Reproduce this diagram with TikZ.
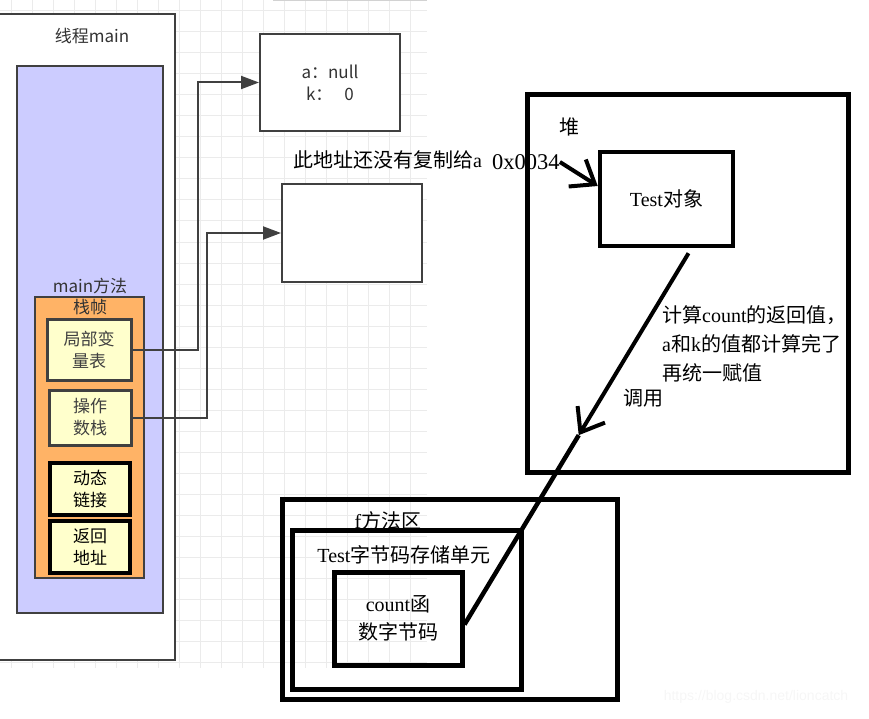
\documentclass[tikz,border=0pt]{standalone}
\usepackage{fontspec}
\setmainfont{Liberation Serif}
\newfontfamily\zh{Noto Sans CJK SC}
\newfontfamily\wmfont{Liberation Sans}
\usetikzlibrary{arrows.meta,calc}
\definecolor{framegray}{HTML}{404040}
\definecolor{stackblue}{HTML}{CCCCFF}
\definecolor{frameorange}{HTML}{FFB366}
\definecolor{slotyellow}{HTML}{FFFFCC}
\definecolor{gridgray}{HTML}{EBEBEB}

\begin{document}
\begin{tikzpicture}[x=1pt,y=-1pt,
    every node/.style={inner sep=0pt},
    gbox/.style={draw=framegray,line width=2pt,fill=white},
    slot/.style={draw=framegray,line width=3pt,fill=slotyellow,align=center,
        font=\zh\fontsize{17}{22}\selectfont,text=framegray},
    bbox/.style={draw=black,line width=5pt},
    lbl/.style={font=\zh\fontsize{17}{22}\selectfont,text=black!80},
    note/.style={font=\fontsize{20}{29}\selectfont,align=left},
    link/.style={draw=framegray,line width=2pt,-{Triangle[length=18pt,width=13pt]}},
    barb/.style={line width=4pt,-{Straight Barb[length=21pt,width=32pt]}},
    gridline/.style={draw=gridgray,line width=1pt}]
    \useasboundingbox (0,0) rectangle (869,719);

    \foreach \g in {11,32,...,410} \draw[gridline] (\g,0) -- (\g,668);
    \foreach \g in {11,32,...,662} \draw[gridline] (0,\g) -- (427,\g);
    \draw[draw=gray!35,line width=1.5pt] (273,0.5) -- (427,0.5);

    % thread stack
    \node[gbox,minimum width=176pt,minimum height=646pt] (thread) at (87,337) {};
    \node[lbl] (threadlabel) at (92,36) {线程main};
    \node[gbox,fill=stackblue,minimum width=146pt,minimum height=547pt] (stack) at (90,339.5) {};
    \node[lbl] (methodlabel) at (90,286) {main方法};
    \node[gbox,fill=frameorange,minimum width=109pt,minimum height=281pt] (frame) at (89.5,437.5) {};
    \node[lbl] (framelabel) at (90,307) {栈帧};
    \node[slot,minimum width=84pt,minimum height=61pt] (lvt) at (89,349.5) {局部变\\量表};
    \node[slot,minimum width=82pt,minimum height=55pt] (ops) at (90,417.5) {操作\\数栈};
    \node[slot,draw=black,line width=4pt,text=black,minimum width=80pt,minimum height=52pt] (dyn) at (90,489) {动态\\链接};
    \node[slot,draw=black,line width=4pt,text=black,minimum width=80pt,minimum height=52pt] (ret) at (90,547) {返回\\地址};

    \node[gbox,lbl,align=center,minimum width=140pt,minimum height=97pt] (vars) at (330,82.5) {a：null\\k：\hspace{12pt}0};
    \node[gbox,minimum width=140pt,minimum height=98pt] (empty) at (352,233) {};
    \draw[link] (lvt.east) -- ++(65,0) |- (vars.west);
    \draw[link] (ops.east) -- ++(74,0) |- (empty.west);

    \node[note,anchor=west] (pending) at (293,160) {{\zh 此地址还没有复制给}a};
    \node[note,anchor=west,font=\fontsize{22.5}{29}\selectfont] (addr) at (492,162) {0x0034};

    % heap
    \node[bbox,minimum width=321pt,minimum height=377pt] (heap) at (687.5,283.5) {};
    \node[note] (heaplabel) at (569,127) {\zh 堆};
    \node[bbox,line width=4.5pt,note,minimum width=133pt,minimum height=94pt] (test) at (666.5,199) {Test{\zh 对象}};
    \draw[barb] (addr.east) -- ([yshift=13pt]test.west);
    \node[note,anchor=north west] (calc) at (662,305) {{\zh 计算}count{\zh 的返回值，}\\a{\zh 和}k{\zh 的值都计算完了}\\{\zh 再统一赋值}};
    \node[note] (calllabel) at (643,398) {\zh 调用};

    % method area
    \node[bbox,minimum width=335pt,minimum height=200pt] (area) at (449.5,599) {};
    \node[note] (arealabel) at (388,521) {f{\zh 方法区}};
    \node[bbox,minimum width=229pt,minimum height=159pt] (unit) at (406.5,609.5) {};
    \node[note] (unitlabel) at (404,555) {Test{\zh 字节码存储单元}};
    \node[bbox,note,align=center,font=\fontsize{20}{28}\selectfont,minimum width=128pt,minimum height=93pt] (count) at (398,618.5) {count{\zh 函}\\{\zh 数字节码}};

    \coordinate (callstart) at ([xshift=22pt,yshift=-5pt]test.south);
    \coordinate (callend) at ([yshift=-6pt]count.east);
    \coordinate (callmid) at ($(callstart)!0.49!(callend)$);
    \draw[barb] (callstart) -- (callmid);
    \draw[line width=4.5pt] (callmid) -- (callend);

    \node[font=\wmfont\fontsize{14}{16}\selectfont,text=gray!7] (mark) at (756,697) {https://blog.csdn.net/lioncatch};
\end{tikzpicture}
\end{document}
